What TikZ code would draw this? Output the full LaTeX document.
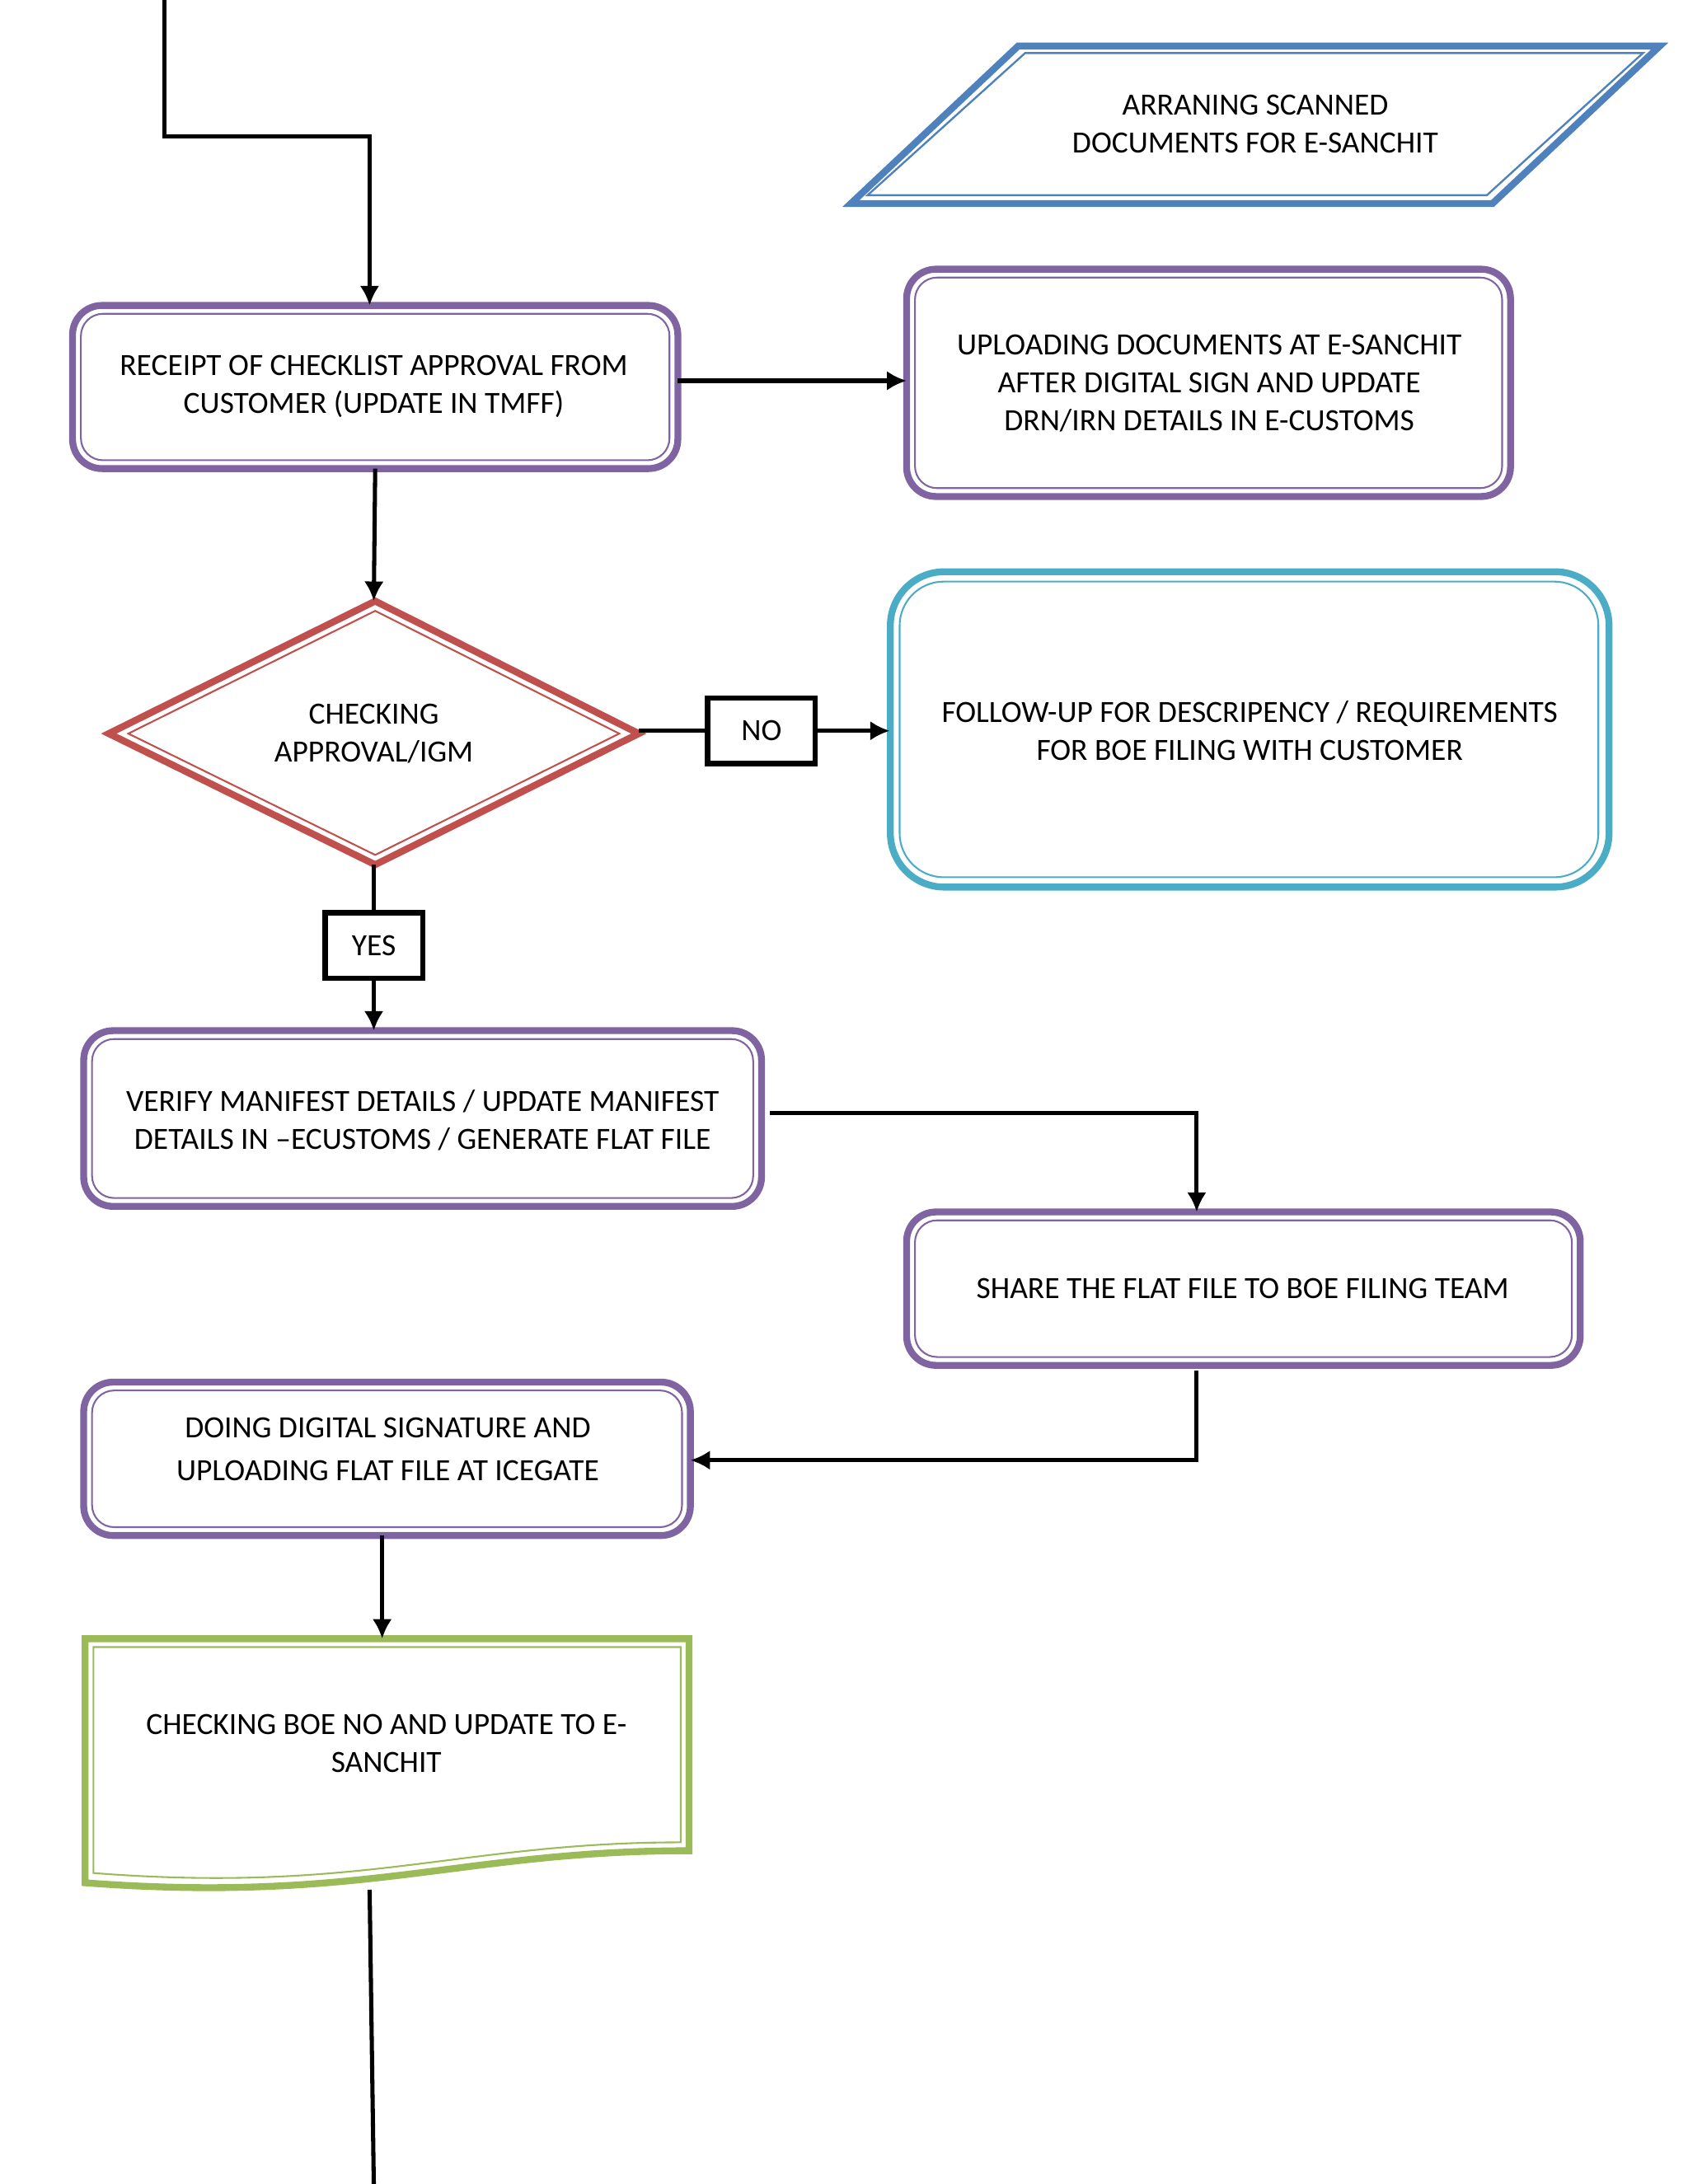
\documentclass[tikz,border=0pt]{standalone}
\usepackage{fontspec}
\setmainfont{Carlito}
\usetikzlibrary{arrows.meta,shapes.geometric}
\definecolor{purp}{HTML}{8064A2}
\definecolor{redc}{HTML}{C0504D}
\definecolor{bluec}{HTML}{4F81BD}
\definecolor{aqua}{HTML}{4BACC6}
\definecolor{grn}{HTML}{9BBB59}
\begin{document}
\begin{tikzpicture}[x=0.01cm,y=-0.01cm,
  txt/.style={font=\fontsize{6.3pt}{7.7pt}\selectfont,align=center,text=black},
  box/.style={draw=purp,line width=1.4pt,rounded corners=6pt,inner sep=0pt},
  inner/.style={line width=0.35pt,rounded corners=4.5pt},
  conn/.style={line width=0.85pt,-{Latex[length=4pt,width=4pt]}},
  lbl/.style={draw=black,line width=1.1pt,txt,inner sep=0pt}]
\useasboundingbox (0,0) rectangle (1210,1566);
\newcommand{\dbox}[6]{% name, x1,y1,x2,y2, color
  \node[box,draw=#6,minimum width={(#4-#2)*0.01cm},minimum height={(#5-#3)*0.01cm}] (#1) at ({(#2+#4)/2},{(#3+#5)/2}) {};
  \draw[inner,draw=#6] (#2+6,#3+6) rectangle (#4-6,#5-6);}
% parallelogram
\draw[bluec,line width=1.4pt] (610,146)--(730,33)--(1190,33)--(1070,146)--cycle;
\draw[bluec,line width=0.4pt] (622,140)--(735,38)--(1178,38)--(1066,140)--cycle;
\node[txt] (par) at (900,89) {ARRANING SCANNED\\DOCUMENTS FOR E-SANCHIT};
% boxes
\dbox{rec}{52}{219}{486}{336}{purp}
\node[txt] at (268,277) {RECEIPT OF CHECKLIST APPROVAL FROM\\CUSTOMER (UPDATE IN TMFF)};
\dbox{upl}{650}{193}{1083}{356}{purp}
\node[txt] at (867,275) {UPLOADING DOCUMENTS AT E-SANCHIT\\AFTER DIGITAL SIGN AND UPDATE\\DRN/IRN DETAILS IN E-CUSTOMS};
\node[box,draw=aqua,rounded corners=11pt,minimum width=5.15cm,minimum height=2.26cm] (fol) at (896,523) {};
\draw[aqua,line width=0.35pt,rounded corners=9pt] (645,417) rectangle (1146,629);
\node[txt] at (896,524) {FOLLOW-UP FOR DESCRIPENCY / REQUIREMENTS\\FOR BOE FILING WITH CUSTOMER};
\dbox{ver}{60}{739}{546}{865}{purp}
\node[txt] at (303,803) {VERIFY MANIFEST DETAILS / UPDATE MANIFEST\\DETAILS IN --ECUSTOMS / GENERATE FLAT FILE};
\dbox{sha}{650}{869}{1133}{979}{purp}
\node[txt] at (891,924) {SHARE THE FLAT FILE TO BOE FILING TEAM};
\dbox{doi}{60}{991}{495}{1101}{purp}
\node[txt,font=\fontsize{6.3pt}{8.8pt}\selectfont] at (278,1039) {DOING DIGITAL SIGNATURE AND\\UPLOADING FLAT FILE AT ICEGATE};
% diamond
\draw[redc,line width=1.4pt] (78,526)--(269,431)--(458,526)--(269,620)--cycle;
\draw[redc,line width=0.35pt] (92,526)--(269,438)--(444,526)--(269,613)--cycle;
\node[txt] (dia) at (268,526) {CHECKING\\APPROVAL/IGM};
% document
\draw[grn,line width=1.4pt] (61,1175)--(494,1175)--(494,1327) .. controls (330,1327) and (260,1365) .. (61,1350)--cycle;
\draw[grn,line width=0.35pt] (67,1181)--(488,1181)--(488,1321) .. controls (330,1321) and (260,1358) .. (67,1343)--cycle;
\node[txt] (doc) at (277,1250) {CHECKING BOE NO AND UPDATE TO E-\\SANCHIT};
% labels
\node[lbl,minimum width=0.77cm,minimum height=0.47cm] (no) at (546,524) {NO};
\node[lbl,minimum width=0.70cm,minimum height=0.47cm] (yes) at (268,678) {YES};
% connectors
\coordinate (t0) at (118,0);
\draw[conn] (t0)--(118,98)--(265,98)--(265,219);
\draw[conn] (486,273)--(650,273);
\draw[conn] (269,336)--(268,431);
\draw[line width=0.85pt] (458,524)--(no.west);
\draw[conn] (no.east)--(638,524);
\draw[line width=0.85pt] (268,620)--(yes.north);
\draw[conn] (yes.south)--(268,739);
\draw[conn] (552,798)--(858,798)--(858,869);
\draw[conn] (858,983)--(858,1047)--(495,1047);
\draw[conn] (274,1101)--(274,1175);
\coordinate (bend) at (268,1566);
\draw[line width=0.85pt] (265,1355)--(bend);
\end{tikzpicture}
\end{document}
